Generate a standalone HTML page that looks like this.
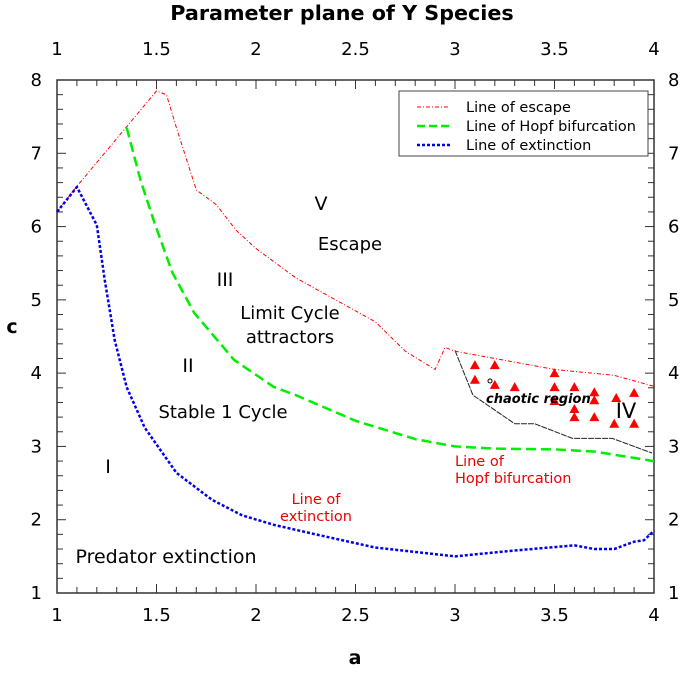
<!DOCTYPE html>
<html><head><meta charset="utf-8"><style>
body{margin:0;background:#fff}
svg text{font-family:"DejaVu Sans","Liberation Sans",sans-serif}
</style></head><body>
<svg id="chart" width="685" height="668" xmlns="http://www.w3.org/2000/svg">
<text x="342" y="20" text-anchor="middle" font-size="20.7" font-weight="bold">Parameter plane of Y Species</text>
<text x="355" y="664" text-anchor="middle" font-size="19" font-weight="bold">a</text>
<text x="12" y="333" text-anchor="middle" font-size="19" font-weight="bold">c</text>
<g id="axes"></g>
<g id="series"></g>
<g id="annotations" font-size="18">
<text x="321" y="210" text-anchor="middle" font-size="19">V</text>
<text x="350" y="250" text-anchor="middle">Escape</text>
<text x="225" y="286" text-anchor="middle" font-size="19">III</text>
<text x="290" y="319" text-anchor="middle">Limit Cycle</text>
<text x="290" y="343" text-anchor="middle">attractors</text>
<text x="188" y="372" text-anchor="middle" font-size="19">II</text>
<text x="223" y="418" text-anchor="middle">Stable 1 Cycle</text>
<text x="108" y="473" text-anchor="middle" font-size="19">I</text>
<text x="166" y="563" text-anchor="middle" font-size="19">Predator extinction</text>
<text x="316" y="504" text-anchor="middle" font-size="14.5" fill="#e00">Line of</text>
<text x="316" y="521" text-anchor="middle" font-size="14.5" fill="#e00">extinction</text>
<text x="455" y="466" font-size="14.5" fill="#e00">Line of</text>
<text x="455" y="483" font-size="14.5" fill="#e00">Hopf bifurcation</text>
<text x="486" y="403" font-size="13" font-weight="bold" font-style="italic">chaotic region</text>
<text x="626" y="418" text-anchor="middle" font-size="21">IV</text>
</g>
<g>
<rect x="399" y="91" width="249" height="65" fill="#fff" stroke="#444" stroke-width="1"/>
<line x1="417" y1="107" x2="450" y2="107" stroke="#f00" stroke-width="1" stroke-dasharray="4,2,1,2"/>
<text x="466" y="112" font-size="14.5">Line of escape</text>
<line x1="417" y1="126" x2="450" y2="126" stroke="#0e0" stroke-width="2.5" stroke-dasharray="8,4"/>
<text x="466" y="131" font-size="14.5">Line of Hopf bifurcation</text>
<line x1="417" y1="145" x2="450" y2="145" stroke="#00e" stroke-width="2.5" stroke-dasharray="3,2"/>
<text x="466" y="150" font-size="14.5">Line of extinction</text>
</g>
</svg>
<script>
const escapeA=[1,1.1,1.5,1.55,1.6,1.7,1.8,1.9,2,2.2,2.4,2.6,2.75,2.9,2.95,3,3.2,3.5,3.8,4];
const escapeC=[6.2,6.55,7.85,7.8,7.35,6.5,6.3,5.95,5.7,5.3,5,4.7,4.3,4.05,4.35,4.3,4.2,4.05,3.97,3.82];
const hopfA=[1.35,1.42,1.49,1.58,1.69,1.89,2.09,2.2,2.5,2.8,3,3.2,3.5,3.7,4];
const hopfC=[7.35,6.63,6.05,5.37,4.82,4.18,3.81,3.7,3.35,3.1,3.0,2.97,2.96,2.93,2.8];
const extA=[1,1.1,1.2,1.24,1.29,1.35,1.44,1.6,1.78,1.93,2.09,2.3,2.6,3,3.3,3.6,3.7,3.8,3.9,3.95,4];
const extC=[6.2,6.54,6.02,5.27,4.45,3.81,3.26,2.64,2.27,2.06,1.93,1.8,1.62,1.5,1.58,1.65,1.6,1.6,1.7,1.72,1.85];
const chaosA=[3.0,3.09,3.3,3.4,3.59,3.79,3.99];
const chaosC=[4.31,3.7,3.31,3.31,3.11,3.11,2.91];
const triA=[3.1,3.2,3.1,3.2,3.3,3.5,3.5,3.5,3.6,3.6,3.6,3.7,3.7,3.7,3.81,3.9,3.8,3.9];
const triC=[4.11,4.11,3.91,3.84,3.81,4.0,3.81,3.62,3.81,3.51,3.4,3.74,3.63,3.4,3.66,3.73,3.31,3.31];
const xTicks=[1,1.5,2,2.5,3,3.5,4];
const xTickLabels=["1","1.5","2","2.5","3","3.5","4"];
const yTicks=[1,2,3,4,5,6,7,8];
const yTickLabels=["1","2","3","4","5","6","7","8"];
const X0=57,X1=654,Y0=593,Y1=80;
const sx=a=>X0+(a-1)/3*(X1-X0);
const sy=c=>Y0-(c-1)/7*(Y0-Y1);
const NS="http://www.w3.org/2000/svg";
function mk(tag,attrs,parent){const e=document.createElementNS(NS,tag);for(const k in attrs)e.setAttribute(k,attrs[k]);parent.appendChild(e);return e;}
const axes=document.getElementById('axes');
const frame=mk('rect',{x:X0,y:Y1,width:X1-X0,height:Y0-Y1,fill:'none',stroke:'#333','stroke-width':1.5},axes);


for(let i=0;i<=30;i++){const a=1+i*0.1,x=sx(a),L=(i%5==0)?9:6;
 mk('line',{x1:x,y1:Y0,x2:x,y2:Y0-L,stroke:'#333'},axes);
 mk('line',{x1:x,y1:Y1,x2:x,y2:Y1+L,stroke:'#333'},axes);}
for(let i=0;i<=35;i++){const c=1+i*0.2,y=sy(c),L=(i%5==0)?9:6;
 mk('line',{x1:X0,y1:y,x2:X0+L,y2:y,stroke:'#333'},axes);
 mk('line',{x1:X1,y1:y,x2:X1-L,y2:y,stroke:'#333'},axes);}
xTicks.forEach((a,i)=>{
 const t=mk('text',{x:sx(a),y:621,'text-anchor':'middle','font-size':18},axes);t.textContent=xTickLabels[i];
 
 
 const t2=mk('text',{x:sx(a),y:55,'text-anchor':'middle','font-size':18},axes);t2.textContent=xTickLabels[i];
 
 });
yTicks.forEach((c,i)=>{
 const t=mk('text',{x:42,y:sy(c)+6,'text-anchor':'end','font-size':18},axes);t.textContent=yTickLabels[i];
 
 
 const t2=mk('text',{x:668,y:sy(c)+6,'font-size':18},axes);t2.textContent=yTickLabels[i];
 
 });
const ser=document.getElementById('series');
function line(A,C,attrs,name){const p=mk('polyline',Object.assign({points:A.map((a,i)=>sx(a)+','+sy(C[i])).join(' '),fill:'none','stroke-linejoin':'round'},attrs),ser);
 
 }
line(chaosA,chaosC,{stroke:'#222','stroke-width':1,'stroke-dasharray':'6,1'},'chaotic-boundary-line');
line(escapeA,escapeC,{stroke:'#f00','stroke-width':1,'stroke-dasharray':'4,2,1,2'},'escape-line');
line(hopfA,hopfC,{stroke:'#0e0','stroke-width':2.5,'stroke-dasharray':'10,5'},'hopf-line');
line(extA,extC,{stroke:'#00e','stroke-width':2.5,'stroke-dasharray':'3,2'},'extinction-line');
triA.forEach((a,i)=>{const x=sx(a),y=sy(triC[i]);
 const t=mk('polygon',{points:`${x-5},${y+4} ${x+5},${y+4} ${x},${y-5}`,fill:'#f00'},ser);
 
 });
const c=mk('circle',{cx:490,cy:381,r:2,fill:'none',stroke:'#000','stroke-width':1},ser);


</script>
</body></html>
